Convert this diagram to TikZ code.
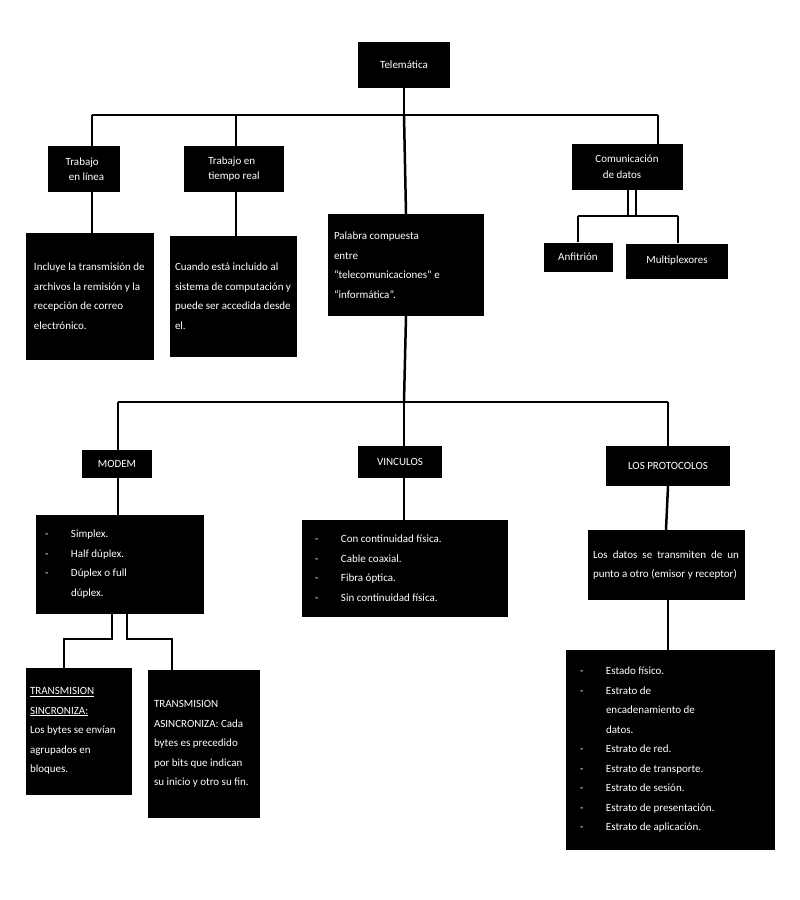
\documentclass[tikz,border=0pt]{standalone}
\usepackage{fontspec}
\setmainfont{Carlito}
\begin{document}
\begin{tikzpicture}[x=1pt,y=-1pt,
 box/.style={fill=black,text=white,inner sep=0pt,font=\fontsize{11}{19.5}\selectfont,align=left},
 ln/.style={line width=2.5pt,black}]
\useasboundingbox (0,0) rectangle (800,900);
\newcommand\bx[6]{\node[box,minimum width=#4,minimum height=#5] (#1) at (#2,#3) {#6};}
\newcommand\itm[1]{\makebox[26pt][l]{-}#1}
% nodes
\bx{tel}{404}{65}{92}{46}{Telemática}
\bx{lin}{84}{169}{72}{46}{\,Trabajo\\[-4pt]\ \ en línea}
\bx{real}{234}{169}{100}{46}{Trabajo en\\[-4pt]tiempo real}
\bx{com}{627}{167}{111}{46}{Comunicación\\[-4pt]\ \ \ de datos}
\bx{inc}{90}{296}{128}{127}{\parbox[t]{112pt}{\raggedright Incluye la transmisión de archivos la remisión y la recepción de correo electrónico.}}
\bx{cua}{233}{296}{127}{121}{\parbox[t]{116pt}{\raggedright Cuando está incluido al sistema de computación y puede ser accedida desde el.}}
\bx{pal}{406}{265}{156}{102}{\parbox[t]{144pt}{\raggedright Palabra compuesta\\ entre\\ “telecomunicaciones” e\\ “informática”.}}
\bx{anf}{578}{257}{69}{29}{Anfitrión}
\bx{mul}{677}{261}{102}{35}{Multiplexores}
\bx{mod}{117}{464}{70}{28}{MODEM}
\bx{vin}{400}{462}{84}{32}{VINCULOS}
\bx{pro}{668}{466}{124}{40}{LOS PROTOCOLOS}
\bx{mlist}{120}{564}{168}{99}{\parbox[t]{150pt}{\itm{Simplex.}\\\itm{Half dúplex.}\\\itm{Dúplex o full}\\\makebox[26pt]{}dúplex.}}
\bx{vlist}{405}{568}{206}{97}{\parbox[t]{180pt}{\itm{Con continuidad física.}\\\itm{Cable coaxial.}\\\itm{Fibra óptica.}\\\itm{Sin continuidad física.}}}
\bx{plist}{666}{565}{157}{70}{\parbox[t]{146pt}{Los datos se transmiten de un punto a otro (emisor y receptor)}}
\bx{est}{670}{750}{209}{200}{\parbox[t]{180pt}{\raggedright\itm{Estado físico.}\\\itm{Estrato de}\\\makebox[26pt]{}encadenamiento de\\\makebox[26pt]{}datos.\\\itm{Estrato de red.}\\\itm{Estrato de transporte.}\\\itm{Estrato de sesión.}\\\itm{Estrato de presentación.}\\\itm{Estrato de aplicación.}}}
\bx{sin}{79}{731}{106}{127}{\parbox[t]{98pt}{\raggedright\underline{TRANSMISION}\\\underline{SINCRONIZA:}\\Los bytes se envían agrupados en bloques.}}
\bx{asi}{204}{744}{112}{148}{\parbox[t]{100pt}{\raggedright TRANSMISION ASINCRONIZA: Cada bytes es precedido por bits que indican su inicio y otro su fin.}}
% connectors
\coordinate (h1) at (404,115);
\draw[ln] (tel.south) -- (h1);
\draw[ln] (92,115) -- (658,115);
\draw[ln] (92,115) -- (92,146);
\draw[ln] (236,115) -- (236,146);
\draw[ln] (404,115) -- (pal.north);
\draw[ln] (658,115) -- (658,144);
\draw[ln] (92,192) -- (92,233);
\draw[ln] (236,192) -- (236,236);
\draw[ln] (628,190) -- (628,216) (636,190) -- (636,216);
\draw[ln] (578,216) -- (678,216);
\draw[ln] (578,216) -- (anf.north);
\draw[ln] (678,216) -- (678,243);
\draw[ln] (pal.south) -- (404,402);
\draw[ln] (118,402) -- (668,402);
\draw[ln] (118,402) -- (118,450);
\draw[ln] (404,402) -- (404,446);
\draw[ln] (668,402) -- (pro.north);
\draw[ln] (118,478) -- (118,515);
\draw[ln] (404,478) -- (404,520);
\draw[ln] (pro.south) -- (plist.north);
\draw[ln] (668,600) -- (668,650);
\draw[ln] (112,614) -- (112,639) -- (64,639) -- (64,668);
\draw[ln] (127,614) -- (127,639) -- (172,639) -- (172,670);
\end{tikzpicture}
\end{document}
